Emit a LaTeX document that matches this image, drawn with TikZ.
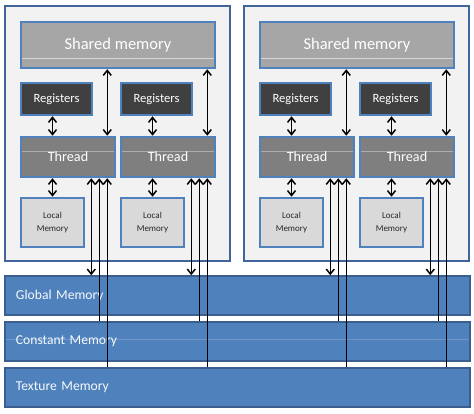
\documentclass[tikz,border=0pt]{standalone}
\usepackage{fontspec}
\setmainfont{Carlito}
\usetikzlibrary{arrows.meta}

\definecolor{blkfill}{HTML}{F2F2F2}
\definecolor{blkline}{HTML}{41649A}
\definecolor{boxline}{HTML}{4F81BD}
\definecolor{barfill}{HTML}{4F81BD}
\definecolor{barline}{HTML}{3A5F8E}
\definecolor{shmfill}{HTML}{A6A6A6}
\definecolor{regfill}{HTML}{404040}
\definecolor{thrfill}{HTML}{7F7F7F}
\definecolor{locfill}{HTML}{D9D9D9}

\tikzset{
  block/.style={draw=blkline,line width=2pt,fill=blkfill,minimum width=225pt,minimum height=255pt},
  inbox/.style={draw=boxline,line width=2.5pt,inner sep=0pt},
  shmem/.style={inbox,fill=shmfill,text=white,minimum width=194pt,minimum height=46pt,
    font=\fontsize{16.5}{18}\selectfont,
    path picture={\draw[white!55!shmfill,line width=1pt]
      ([yshift=9pt]path picture bounding box.south west) -- ([yshift=9pt]path picture bounding box.south east);}},
  regs/.style={inbox,fill=regfill,text=white,minimum width=71pt,minimum height=32pt,
    font=\fontsize{12.6}{14}\selectfont},
  thread/.style={inbox,fill=thrfill,text=white,minimum width=94pt,minimum height=40pt,
    font=\fontsize{14.2}{16}\selectfont,
    path picture={\draw[white!35!thrfill,line width=1pt]
      ([yshift=-15pt]path picture bounding box.north west) -- ([yshift=-15pt]path picture bounding box.north east);}},
  locmem/.style={inbox,fill=locfill,text=black!85,minimum width=63pt,minimum height=49pt,align=center,
    font=\fontsize{9}{13}\selectfont},
  memory/.style={draw=barline,line width=1.5pt,fill=barfill,text=white!95!barfill,minimum height=39pt,
    text width=443pt,inner xsep=11pt,align=left,font=\fontsize{13.6}{16}\selectfont},
  dbl/.style={{Straight Barb[length=5pt,width=8pt]}-{Straight Barb[length=5pt,width=8pt]},line width=1.5pt},
  up/.style={{Straight Barb[length=5pt,width=8pt]}-,line width=1.5pt}
}

\begin{document}
\begin{tikzpicture}[x=1pt,y=-1pt]
\useasboundingbox (0,0) rectangle (474,414);

% the two blocks
\node[block] (blk1) at (117.5,133.5) {};
\node[block] (blk2) at (356.5,133.5) {};

\node[shmem] (sm1) at (118,45) {Shared memory};
\node[regs] (rg11) at (56.5,99) {Registers};
\node[regs] (rg12) at (156.5,99) {Registers};
\node[thread] (th11) at (68,157) {Thread};
\node[thread] (th12) at (168,157) {Thread};
\node[locmem] (lm11) at (52.5,222.5) {Local\\Memory};
\node[locmem] (lm12) at (152.5,222.5) {Local\\Memory};

\node[shmem] (sm2) at (357,45) {Shared memory};
\node[regs] (rg21) at (295.5,99) {Registers};
\node[regs] (rg22) at (395.5,99) {Registers};
\node[thread] (th21) at (307,157) {Thread};
\node[thread] (th22) at (407,157) {Thread};
\node[locmem] (lm21) at (291.5,222.5) {Local\\Memory};
\node[locmem] (lm22) at (391.5,222.5) {Local\\Memory};

% device memories
\node[memory] (glob) at (237.5,295.5) {Global Memory};
\node[memory,path picture={\draw[white!18!barfill,line width=0.8pt]
  ([yshift=-17pt]path picture bounding box.north west) -- ([yshift=-17pt]path picture bounding box.north east);}]
  (cons) at (237.5,341.5) {Constant Memory};
\node[memory] (tex) at (237.5,387.5) {Texture Memory};

% where the lines leave the threads
\coordinate (p11a) at ([xshift=-25pt]th11.south east);
\coordinate (p11b) at ([xshift=-17pt]th11.south east);
\coordinate (p11c) at ([xshift=-9pt]th11.south east);
\coordinate (p12a) at ([xshift=-25pt]th12.south east);
\coordinate (p12b) at ([xshift=-17pt]th12.south east);
\coordinate (p12c) at ([xshift=-9pt]th12.south east);
\coordinate (p21a) at ([xshift=-25pt]th21.south east);
\coordinate (p21b) at ([xshift=-17pt]th21.south east);
\coordinate (p21c) at ([xshift=-9pt]th21.south east);
\coordinate (p22a) at ([xshift=-25pt]th22.south east);
\coordinate (p22b) at ([xshift=-17pt]th22.south east);
\coordinate (p22c) at ([xshift=-9pt]th22.south east);

\draw[dbl] (rg11.south -| lm11) -- (th11.north -| lm11);
\draw[dbl] (th11.south -| lm11) -- (lm11.north);
\draw[dbl] (sm1.south -| p11c) -- (th11.north -| p11c);
\draw[dbl] (p11a) -- (p11a |- glob.north);
\draw[up] (p11b) -- (p11b |- cons.north);
\draw[up] (p11c) -- (p11c |- tex.north);

\draw[dbl] (rg12.south -| lm12) -- (th12.north -| lm12);
\draw[dbl] (th12.south -| lm12) -- (lm12.north);
\draw[dbl] (sm1.south -| p12c) -- (th12.north -| p12c);
\draw[dbl] (p12a) -- (p12a |- glob.north);
\draw[up] (p12b) -- (p12b |- cons.north);
\draw[up] (p12c) -- (p12c |- tex.north);

\draw[dbl] (rg21.south -| lm21) -- (th21.north -| lm21);
\draw[dbl] (th21.south -| lm21) -- (lm21.north);
\draw[dbl] (sm2.south -| p21c) -- (th21.north -| p21c);
\draw[dbl] (p21a) -- (p21a |- glob.north);
\draw[up] (p21b) -- (p21b |- cons.north);
\draw[up] (p21c) -- (p21c |- tex.north);

\draw[dbl] (rg22.south -| lm22) -- (th22.north -| lm22);
\draw[dbl] (th22.south -| lm22) -- (lm22.north);
\draw[dbl] (sm2.south -| p22c) -- (th22.north -| p22c);
\draw[dbl] (p22a) -- (p22a |- glob.north);
\draw[up] (p22b) -- (p22b |- cons.north);
\draw[up] (p22c) -- (p22c |- tex.north);
\end{tikzpicture}
\end{document}
